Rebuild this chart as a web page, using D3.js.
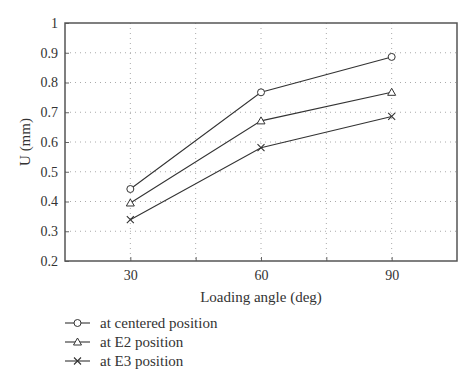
<!DOCTYPE html>
<html>
<head>
<meta charset="utf-8">
<script src="https://cdn.jsdelivr.net/npm/d3@7"></script>
<style>
  body { margin: 0; background: #fff; }
  svg text { font-family: "Liberation Serif", "DejaVu Serif", serif; fill: #333; }
</style>
</head>
<body>
<svg id="chart" width="474" height="386"></svg>
<script>
// data
var angles = [30, 60, 90];
var centered = [0.442, 0.767, 0.886];
var e2 = [0.395, 0.671, 0.767];
var e3 = [0.339, 0.581, 0.686];
var seriesNames = ["at centered position", "at E2 position", "at E3 position"];
var markerTypes = ["circle", "triangle", "cross"];
var yTicks = [0.2, 0.3, 0.4, 0.5, 0.6, 0.7, 0.8, 0.9, 1];
var xGrid = [30, 45, 60, 75, 90];
var xLabels = [30, 60, 90];

var svg = d3.select('#chart');
// plot box (window.top is reserved, so use other names)
var pLeft = 65, pTop = 23, pRight = 457, pBottom = 261;

var x = d3.scaleLinear().domain([15, 105]).range([pLeft, pRight]);
var y = d3.scaleLinear().domain([0.2, 1]).range([pBottom, pTop]);

var ink = '#333';

// grid
var grid = svg.append('g');
grid.selectAll('line.h').data(yTicks.slice(1, -1)).enter().append('line')
  .attr('x1', pLeft).attr('x2', pRight)
  .attr('y1', function(d){ return y(d); }).attr('y2', function(d){ return y(d); })
  .style('stroke', '#aaa').style('stroke-width', 1).style('stroke-dasharray', '1,4');
grid.selectAll('line.v').data(xGrid).enter().append('line')
  .attr('y1', pTop).attr('y2', pBottom)
  .attr('x1', function(d){ return x(d); }).attr('x2', function(d){ return x(d); })
  .style('stroke', '#aaa').style('stroke-width', 1).style('stroke-dasharray', '1,4');

// axes (ticks inward, no domain path)
var yAxis = d3.axisLeft(y).tickValues(yTicks).tickSize(-4).tickPadding(7)
  .tickFormat(function(d){ return d === 1 ? '1' : d3.format('.1f')(d); });
var gy = svg.append('g').attr('transform', 'translate(' + pLeft + ',0)').call(yAxis);
gy.select('.domain').remove();
gy.selectAll('line').style('stroke', '#666');
gy.selectAll('text').style('font-size', '14px').style('fill', ink)
  .style('font-family', '"Liberation Serif", serif');

var xAxis = d3.axisBottom(x).tickValues(xGrid).tickSize(-4).tickPadding(9)
  .tickFormat(function(d){ return xLabels.indexOf(d) > -1 ? d : ''; });
var gx = svg.append('g').attr('transform', 'translate(0,' + pBottom + ')').call(xAxis);
gx.select('.domain').remove();
gx.selectAll('line').style('stroke', '#666');
gx.selectAll('text').style('font-size', '14px').style('fill', ink)
  .style('font-family', '"Liberation Serif", serif');

// frame
svg.append('rect').attr('x', pLeft).attr('y', pTop)
  .attr('width', pRight - pLeft).attr('height', pBottom - pTop)
  .style('fill', 'none').style('stroke', '#555').style('stroke-width', 1.5);

// axis titles
svg.append('text').attr('x', (pLeft + pRight) / 2).attr('y', 302)
  .attr('text-anchor', 'middle').style('font-size', '15px').text('Loading angle (deg)');
svg.append('text').attr('transform', 'translate(30,142) rotate(-90)')
  .attr('text-anchor', 'middle').style('font-size', '15px').text('U (mm)');

function drawMarker(g, type, cx, cy){
  if(type === 'circle'){
    g.append('circle').attr('cx', cx).attr('cy', cy).attr('r', 3.5)
      .style('fill', '#fff').style('stroke', ink).style('stroke-width', 1);
  } else if(type === 'triangle'){
    var s = 4;
    g.append('path')
      .attr('d', 'M' + cx + ',' + (cy - s) + 'L' + (cx + s) + ',' + (cy + s * 0.75) + 'L' + (cx - s) + ',' + (cy + s * 0.75) + 'Z')
      .style('fill', '#fff').style('stroke', ink).style('stroke-width', 1);
  } else {
    var c = 3.5;
    g.append('path')
      .attr('d', 'M' + (cx - c) + ',' + (cy - c) + 'L' + (cx + c) + ',' + (cy + c) + 'M' + (cx - c) + ',' + (cy + c) + 'L' + (cx + c) + ',' + (cy - c))
      .style('fill', 'none').style('stroke', ink).style('stroke-width', 1.1);
  }
}

var allSeries = [centered, e2, e3];
var line = d3.line()
  .x(function(d, i){ return x(angles[i]); })
  .y(function(d){ return y(d); });

allSeries.forEach(function(vals, k){
  var g = svg.append('g');
  g.append('path').attr('d', line(vals))
    .style('fill', 'none').style('stroke', ink).style('stroke-width', 1.1);
  vals.forEach(function(v, i){
    drawMarker(g, markerTypes[k], x(angles[i]), y(v));
  });
});

// legend
var legendY = [323, 342, 361];
seriesNames.forEach(function(name, k){
  var g = svg.append('g');
  var ly = legendY[k];
  g.append('line').attr('x1', 65).attr('x2', 90).attr('y1', ly).attr('y2', ly)
    .style('stroke', ink).style('stroke-width', 1.1);
  drawMarker(g, markerTypes[k], 77.5, ly);
  g.append('text').attr('x', 100).attr('y', ly + 5).style('font-size', '15px').text(name);
});
</script>
</body>
</html>
